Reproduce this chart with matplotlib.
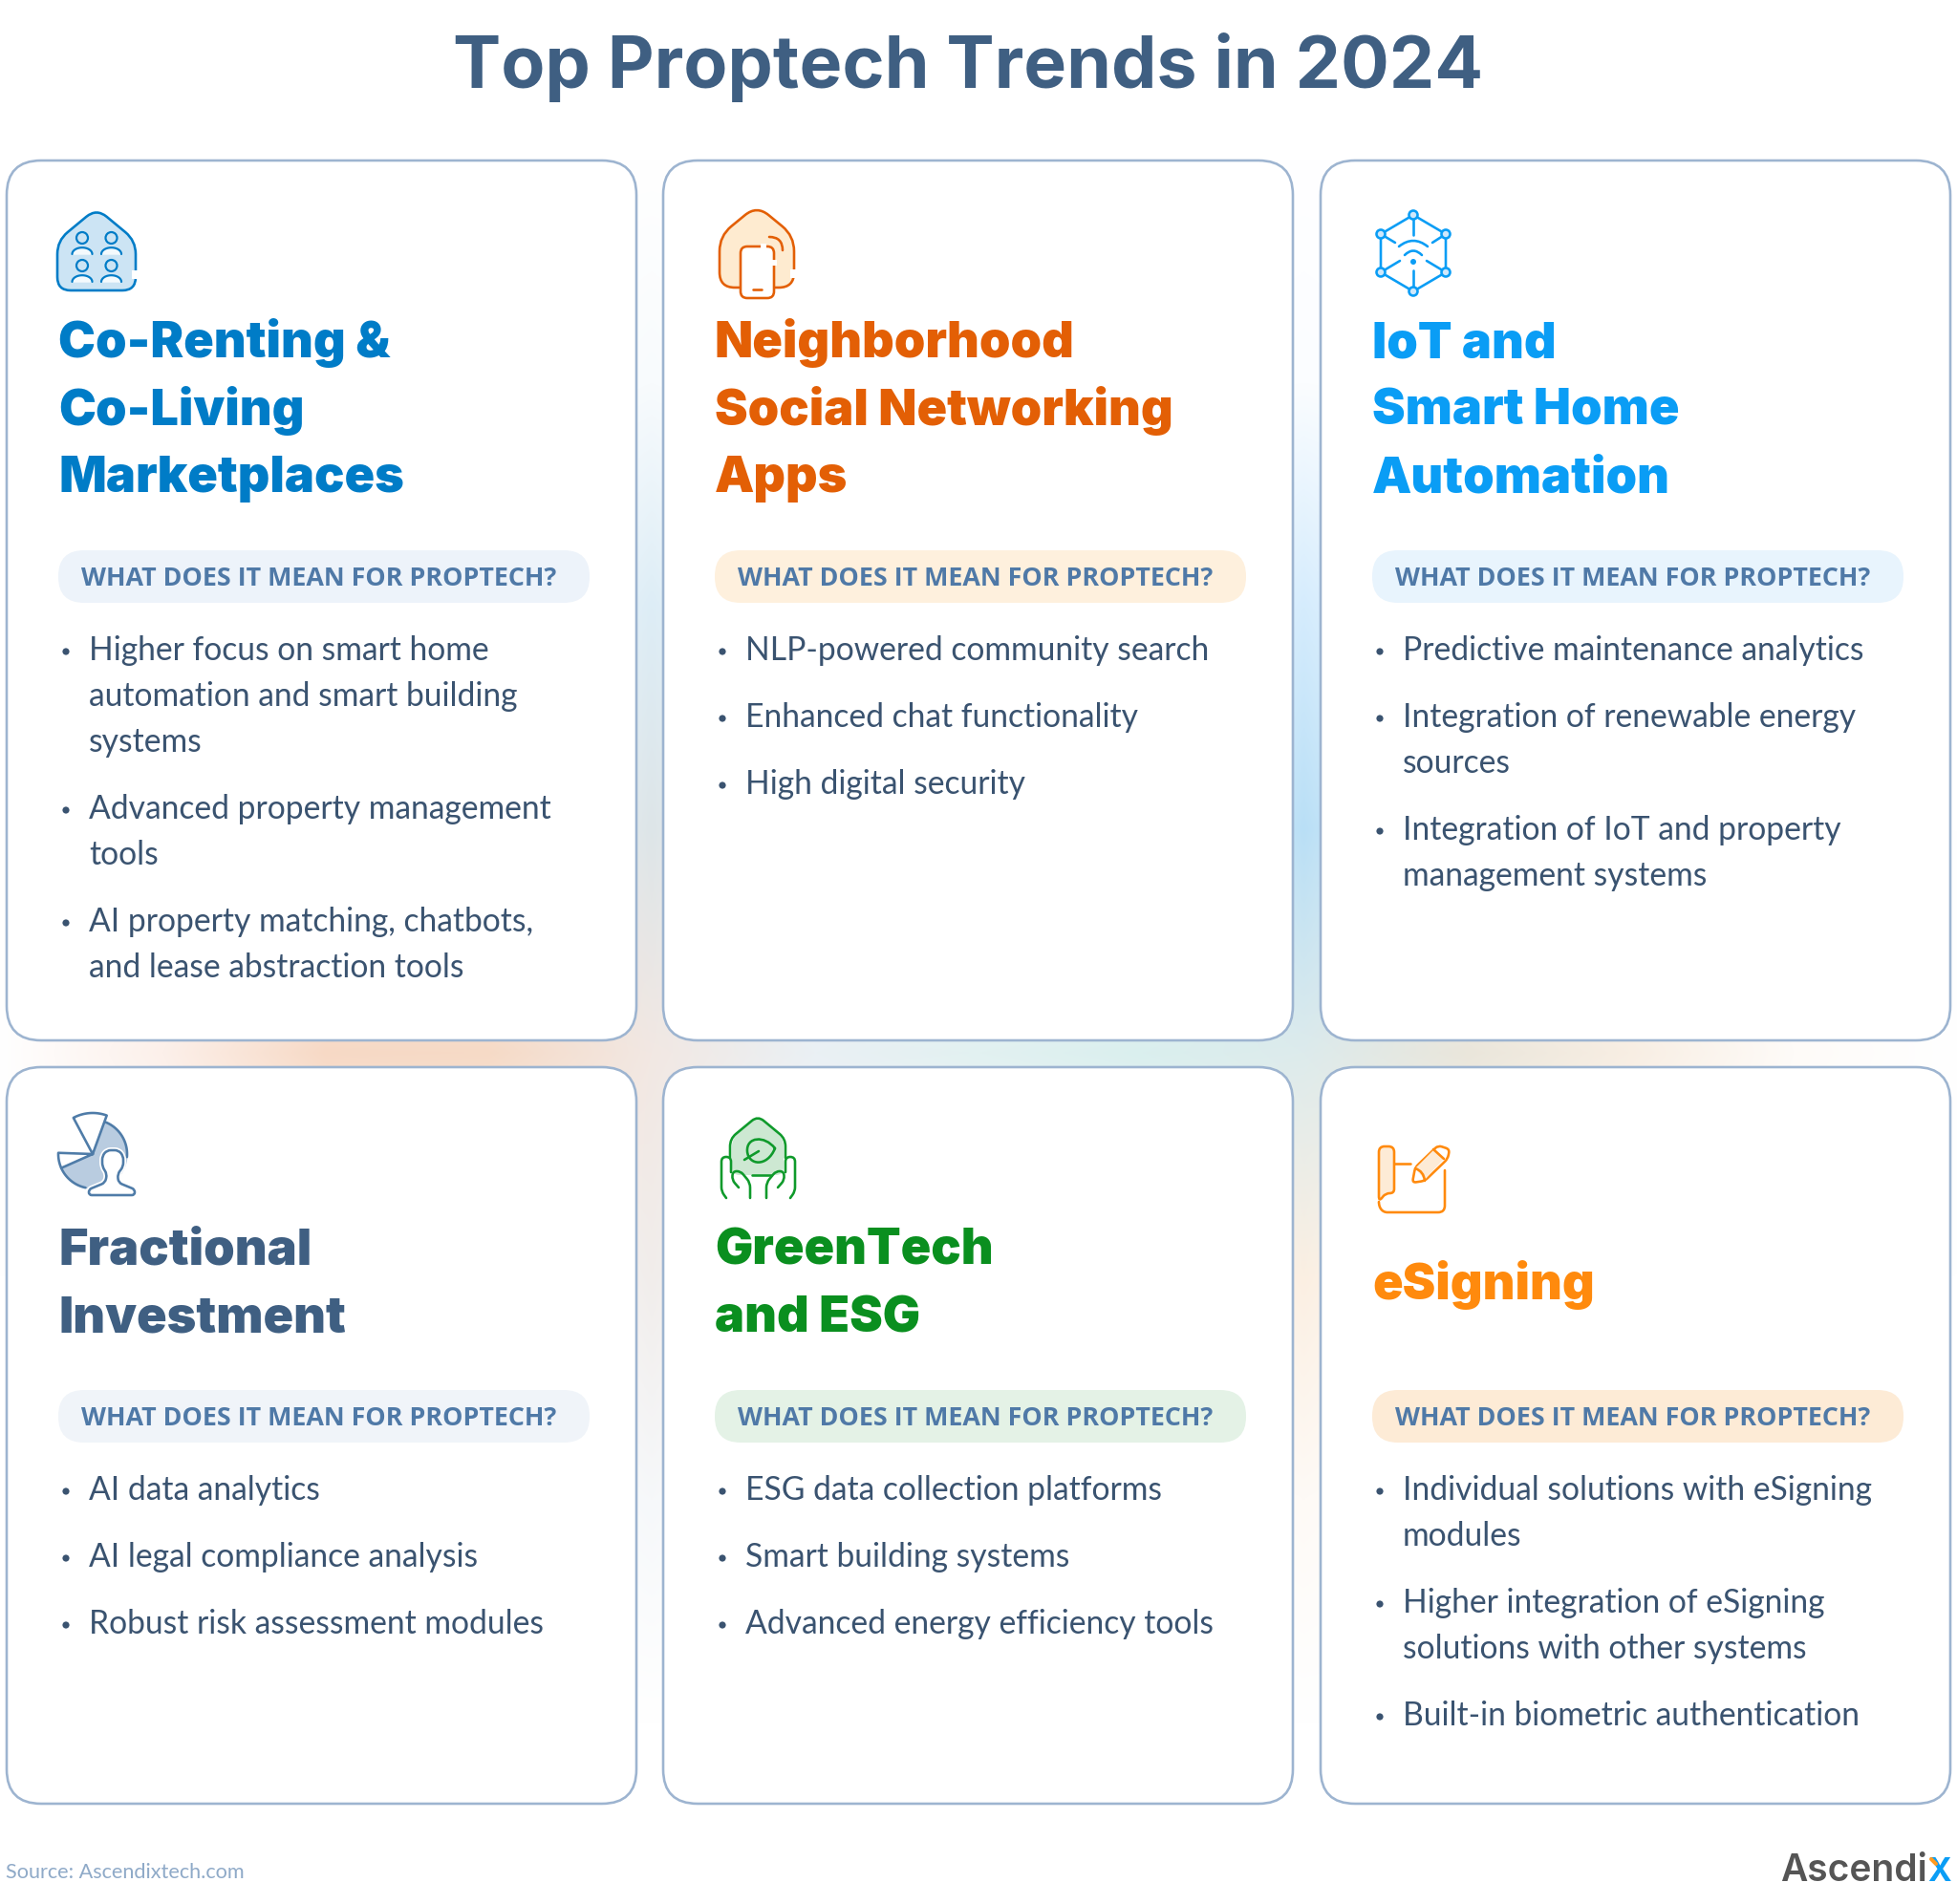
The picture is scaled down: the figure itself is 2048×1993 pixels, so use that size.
import numpy as np
import matplotlib
matplotlib.use('Agg')
import matplotlib.pyplot as plt
from matplotlib.colors import to_rgb
from matplotlib.patches import Circle, Ellipse, FancyBboxPatch, PathPatch, Polygon
from matplotlib.path import Path

TITLE = 'Top Proptech Trends in 2024'
PILL_TEXT = 'WHAT DOES IT MEAN FOR PROPTECH?'
SOURCE = 'Source: Ascendixtech.com'

headings = [
    ['Co-Renting &', 'Co-Living', 'Marketplaces'],
    ['Neighborhood', 'Social Networking', 'Apps'],
    ['IoT and', 'Smart Home', 'Automation'],
    ['Fractional', 'Investment'],
    ['GreenTech', 'and ESG'],
    ['eSigning'],
]
bullets = [
    [['Higher focus on smart home', 'automation and smart building', 'systems'],
     ['Advanced property management', 'tools'],
     ['AI property matching, chatbots,', 'and lease abstraction tools']],
    [['NLP-powered community search'],
     ['Enhanced chat functionality'],
     ['High digital security']],
    [['Predictive maintenance analytics'],
     ['Integration of renewable energy', 'sources'],
     ['Integration of IoT and property', 'management systems']],
    [['AI data analytics'],
     ['AI legal compliance analysis'],
     ['Robust risk assessment modules']],
    [['ESG data collection platforms'],
     ['Smart building systems'],
     ['Advanced energy efficiency tools']],
    [['Individual solutions with eSigning', 'modules'],
     ['Higher integration of eSigning', 'solutions with other systems'],
     ['Built-in biometric authentication']],
]
heading_colors = ['#007CC7', '#E35F05', '#0A9DF5', '#3F5F82', '#0A8F1F', '#FF8A0D']
pill_colors = ['#EDF3FA', '#FEF0DD', '#E8F4FD', '#F0F4F9', '#E4F2E6', '#FDEBD6']

# colours seen in the gaps between the cards
gap_row = ['#FFFFFF', '#FCF0EA', '#F7D9C5', '#F6DAC6', '#F2E8E3', '#EAF0F4', '#E2F1F1',
           '#DAEFEE', '#DDEBEC', '#EAE6DB', '#F8EEE3', '#FEFBF8', '#FFFFFF']
gap_col1 = ['#FFFFFF', '#F8FBFD', '#DDEDF6', '#DDE5E8', '#F2E8E3', '#F1EDEB', '#F6F8FA', '#FFFFFF', '#FFFFFF']
gap_col2 = ['#FFFFFF', '#FBFDFF', '#D5ECFD', '#B9DFF6', '#DDEBEC', '#FBEFE2', '#FEFAF6', '#FFFFFF', '#FFFFFF']

W, H = 2048, 1993
CARD_X = [7, 694, 1382]
CARD_W = 659
ROWS = [(168, 1089), (1117, 1888)]
BORDER = '#9DB4D0'
TITLE_COLOR = '#3F5F82'
BODY_COLOR = '#3A5370'

HEAD_FONT = ['Inter', 'DejaVu Sans']
BODY_FONT = ['Lato', 'DejaVu Sans']
PILL_FONT = ['Open Sans', 'DejaVu Sans']


def px(n):
    return n * 0.72


def rounded_poly(points, r, closed=True):
    pts = np.array(points, dtype=float)
    n = len(pts)
    verts, codes = [], []
    idx = range(n) if closed else range(1, n - 1)
    if not closed:
        verts.append(pts[0])
        codes.append(Path.MOVETO)
    for i in idx:
        p, a, b = pts[i], pts[(i - 1) % n], pts[(i + 1) % n]
        d1 = (a - p) / np.linalg.norm(a - p)
        d2 = (b - p) / np.linalg.norm(b - p)
        rr = min(r, np.linalg.norm(a - p) / 2, np.linalg.norm(b - p) / 2)
        verts.append(p + d1 * rr)
        codes.append(Path.LINETO if len(verts) > 1 else Path.MOVETO)
        verts += [p, p + d2 * rr]
        codes += [Path.CURVE3, Path.CURVE3]
    if closed:
        verts.append(verts[0])
        codes.append(Path.CLOSEPOLY)
    else:
        verts.append(pts[-1])
        codes.append(Path.LINETO)
    return Path(verts, codes)


def arc_pts(cx, cy, r, a0, a1, n=30):
    a = np.radians(np.linspace(a0, a1, n))
    return np.column_stack([cx + r * np.cos(a), cy - r * np.sin(a)])


def stroke(ax, pts, color, lw=2.6, z=5):
    pts = np.asarray(pts)
    ax.plot(pts[:, 0], pts[:, 1], color=color, lw=px(lw), zorder=z, solid_capstyle='round',
            solid_joinstyle='round')


def curve(p0, c, p1):
    return Path([p0, c, p1], [Path.MOVETO, Path.CURVE3, Path.CURVE3])


def draw_path(ax, path, color, fc='none', lw=2.6, z=5):
    ax.add_patch(PathPatch(path, fc=fc, ec=color, lw=px(lw), zorder=z, capstyle='round', joinstyle='round'))


def icon_people(ax):
    c = heading_colors[0]
    draw_path(ax, rounded_poly([(60, 304), (60, 252), (101, 218), (142, 252), (142, 304)], 14), c, '#CCE4F4')
    ax.add_patch(Polygon([(138, 283), (146, 283), (146, 292), (138, 292)], fc='white', ec='none', zorder=6))
    for hx in (86, 116.5):
        for hy in (249, 278):
            ax.add_patch(Ellipse((hx, hy), 12, 12, fc='none', ec=c, lw=px(2.2), zorder=6))
            pts = arc_pts(hx, hy + 17, 10.5, 0, 180)
            pts[:, 1] = hy + 17 - (hy + 17 - pts[:, 1]) * 0.65
            ax.fill(pts[:, 0], pts[:, 1], color='#F4FAFD', zorder=5)
            stroke(ax, pts, c, 2.2, 6)


def icon_phone(ax):
    c = heading_colors[1]
    draw_path(ax, rounded_poly([(753, 301), (753, 247), (792, 215), (831, 247), (831, 301)], 16), c, '#FEEBD0')
    ax.add_patch(Polygon([(827, 282), (835, 282), (835, 291), (827, 291)], fc='white', ec='none', zorder=6))
    draw_path(ax, rounded_poly([(775, 258), (810, 258), (810, 312), (775, 312)], 7), c, 'white', z=6)
    ax.add_patch(Polygon([(796, 255), (802, 255), (802, 261), (796, 261)], fc='white', ec='none', zorder=7))
    ax.add_patch(Polygon([(807, 272), (813, 272), (813, 278), (807, 278)], fc='white', ec='none', zorder=7))
    stroke(ax, [(788, 303), (797, 303)], c, 2.6, 7)
    draw_path(ax, curve((805, 248), (819, 248), (819, 262)), c, z=7)


def icon_iot(ax):
    c = heading_colors[2]
    nodes = [(1479, 225), (1513, 245), (1513, 285), (1479, 305), (1445, 285), (1445, 245)]
    stroke(ax, nodes + nodes[:1], c, 2.6, 5)
    spokes = [(1479, 246), (1499, 254), (1493, 273), (1479, 283), (1465, 273), (1460, 254)]
    for n, s in zip(nodes, spokes):
        stroke(ax, [n, s], c, 2.6, 5)
    for n in nodes:
        ax.add_patch(Circle(n, 4.5, fc='#CFE8FB', ec=c, lw=px(2.6), zorder=6))
    ax.add_patch(Circle((1479, 274), 3, fc=c, ec='none', zorder=6))
    draw_path(ax, curve((1464, 258), (1479, 246), (1494, 258)), c)
    draw_path(ax, curve((1470, 267), (1479, 258), (1488, 267)), c)


def icon_pie(ax):
    c = '#4F7CA8'
    cx, cy = 97, 1208
    big = np.vstack([[(cx, cy)], arc_pts(cx, cy, 36, 68, -156, 60)])
    ax.fill(big[:, 0], big[:, 1], color='#B9CCE0', zorder=4)
    stroke(ax, arc_pts(cx, cy, 36, 68, -5), c)
    stroke(ax, arc_pts(cx, cy, 36, -102, -156), c)
    top = np.vstack([[(cx, cy)], arc_pts(cx, cy, 43, 118, 70)])
    left = np.vstack([[(cx, cy)], arc_pts(cx, cy, 36, 178, 204)])
    for wedge in (top, left):
        stroke(ax, np.vstack([wedge, wedge[:1]]), c)
    person = [(93, 1251), (93, 1245), (110, 1238), (112, 1229), (107, 1221), (107, 1210), (112, 1204),
              (124, 1204), (129, 1210), (129, 1221), (123, 1229), (124, 1238), (141, 1245), (141, 1251)]
    path = rounded_poly(person, 4)
    draw_path(ax, path, 'white', 'white', 6, 6)
    draw_path(ax, path, c, 'white', 2.6, 7)


def icon_green(ax):
    c = '#0F9A2B'
    ax.add_patch(PathPatch(rounded_poly([(766, 1230), (766, 1192), (793, 1169), (820, 1192), (820, 1230)], 8),
                           fc='#CDE8D2', ec='none', zorder=4))
    draw_path(ax, rounded_poly([(764, 1212), (764, 1192), (793, 1168), (822, 1192), (822, 1212)], 8, closed=False), c)
    stroke(ax, [(787, 1230), (807, 1230)], c)
    left = [(760, 1254), (755, 1247), (755, 1211), (765, 1211), (765, 1227)]
    finger = [(773, 1243), (766, 1235), (767, 1226), (775, 1226), (785, 1238), (785, 1254)]
    for sign in (1, -1):
        for pts in (left, finger):
            p = [(793.5 + sign * (x - 793.5), y) for x, y in pts]
            draw_path(ax, rounded_poly(p, 5, closed=False), c)
    leaf = Path([(811, 1202), (800, 1188), (781, 1190), (782, 1205), (783, 1220), (803, 1222), (811, 1202)],
                [Path.MOVETO] + [Path.CURVE4] * 6)
    draw_path(ax, leaf, c)
    stroke(ax, [(779, 1214), (794, 1205)], c)


def icon_sign(ax):
    c = heading_colors[5]
    roll = rounded_poly([(1443, 1258), (1443, 1200), (1459, 1200), (1459, 1249), (1450, 1249)], 6)
    draw_path(ax, roll, c, '#FDEBD6')
    body = Path([(1443, 1258), (1443, 1265), (1447, 1269), (1452, 1269), (1505, 1269), (1512, 1269), (1512, 1262),
                 (1512, 1225)],
                [Path.MOVETO, Path.CURVE4, Path.CURVE4, Path.CURVE4, Path.LINETO, Path.CURVE3, Path.CURVE3, Path.LINETO])
    draw_path(ax, body, c)
    stroke(ax, [(1459, 1218), (1476, 1218)], c)
    pencil = rounded_poly([(1478, 1238), (1481, 1222), (1505, 1199), (1517, 1203), (1515, 1213), (1491, 1236)], 4)
    draw_path(ax, pencil, c, 'white')
    shade = [(1481, 1223), (1500, 1204), (1511, 1213), (1491, 1235)]
    ax.add_patch(Polygon(shade, fc='#FDEBD6', ec='none', zorder=5))
    stroke(ax, [(1500, 1203), (1511, 1213)], c, 2.6, 6)
    draw_path(ax, curve((1481, 1223), (1490, 1226), (1491, 1236)), c, z=6)


fig = plt.figure(figsize=(W / 100, H / 100), dpi=100, facecolor='white')
ax = fig.add_axes([0, 0, 1, 1])

# soft gradient that shows between the cards
grid = np.ones((len(gap_col1), len(gap_row), 3))
grid[:, 4] = [to_rgb(c) for c in gap_col1]
grid[:, 8] = [to_rgb(c) for c in gap_col2]
grid[4, :] = [to_rgb(c) for c in gap_row]
dx = W / 12
dy = 233.75
ax.imshow(grid, extent=(-dx / 2, W + dx / 2, 168 + 8 * dy + dy / 2, 168 - dy / 2),
          interpolation='bilinear', aspect='auto', zorder=0)
ax.set_xlim(0, W)
ax.set_ylim(H, 0)
ax.axis('off')

ax.text(1013, 92, TITLE, color=TITLE_COLOR, fontsize=54.2, fontweight='bold', family=HEAD_FONT,
        ha='center', va='baseline')

icons = [icon_people, icon_phone, icon_iot, icon_pie, icon_green, icon_sign]
heading_y = [374, 374, 374, 1324, 1324, 1360]

for i in range(6):
    r, col = divmod(i, 3)
    x0 = CARD_X[col]
    top, bottom = ROWS[r]
    ax.add_patch(FancyBboxPatch((x0, top), CARD_W, bottom - top, boxstyle='round,pad=0,rounding_size=36',
                                fc='white', ec=BORDER, lw=px(2.6), zorder=1))
    icons[i](ax)
    for k, line in enumerate(headings[i]):
        ax.text(x0 + 54, heading_y[i] + k * 70.7, line, color=heading_colors[i], fontsize=37.5, fontweight=900,
                family=HEAD_FONT, va='baseline', zorder=3)
    pill_y = 576 if r == 0 else 1455
    ax.add_patch(FancyBboxPatch((x0 + 54, pill_y), 556, 55, boxstyle='round,pad=0,rounding_size=27',
                                fc=pill_colors[i], ec='none', zorder=2))
    ax.text(x0 + 78, pill_y + 37, PILL_TEXT, color='#4F79A7', fontsize=19.4, fontweight='bold',
            family=PILL_FONT, va='baseline', zorder=3)
    y = 691 if r == 0 else 1570
    for item in bullets[i]:
        ax.add_patch(Circle((x0 + 62, y - 9), 3.6, fc=BODY_COLOR, ec='none', zorder=3))
        for line in item:
            ax.text(x0 + 86, y, line, color=BODY_COLOR, fontsize=24.2, family=BODY_FONT, va='baseline', zorder=3)
            y += 48
        y += 22

ax.text(6, 1966, SOURCE, color='#8FAAC8', fontsize=15.6, family=BODY_FONT, va='baseline')
ax.text(2017, 1969, 'Ascendi', color='#555555', fontsize=28, fontweight='semibold', family=HEAD_FONT,
        ha='right', va='baseline')
ax.text(2042, 1969, 'X', color='#0A9DF5', fontsize=24, fontweight='bold', family=HEAD_FONT, ha='right', va='baseline')
stroke(ax, [(2021, 1946), (2026, 1951)], '#FF9A1F', 4, 6)

fig.savefig('out.png', dpi=100)
plt.close(fig)
